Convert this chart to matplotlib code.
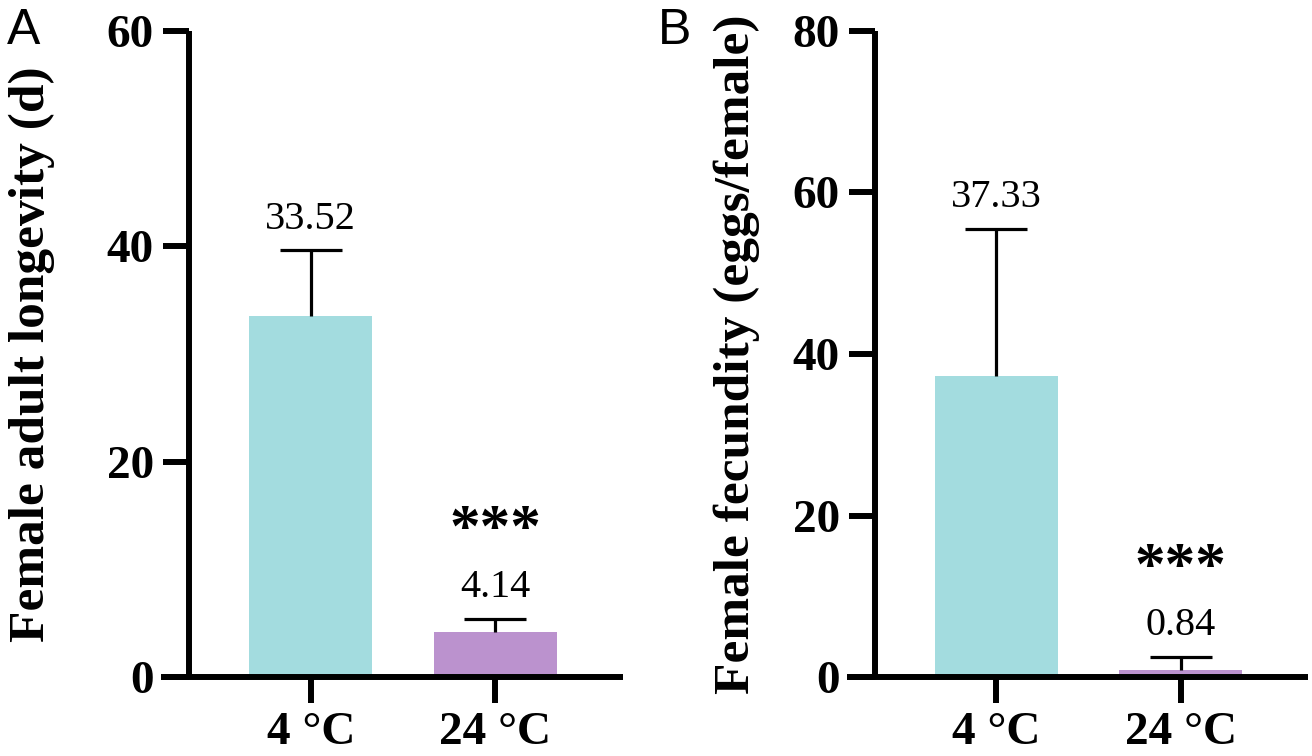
import matplotlib.pyplot as plt

# Datos
temperaturas = ['4 °C', '24 °C']
longevidad = [33.52, 4.14]
longevidad_err = [6.13, 1.25]
fecundidad = [37.33, 0.84]
fecundidad_err = [18.17, 1.64]
etiquetas_long = ['33.52', '4.14']
etiquetas_fec = ['37.33', '0.84']
significancia = ['', '***']

colores = ['#a3dcdf', '#bb92ce']
serif = 'Liberation Serif'
sans = 'Liberation Sans'

fig = plt.figure(figsize=(13.12, 7.56), dpi=100)


def panel(ax, valores, errores, etiquetas, ymax, titulo, letra):
    x = list(range(len(valores)))
    ax.bar(x, valores, width=0.665, color=colores, zorder=2)
    _, caps, _ = ax.errorbar(x, valores, yerr=[[0] * len(errores), errores], fmt='none',
                             ecolor='black', elinewidth=2.3, capsize=22, capthick=2.3,
                             zorder=3)
    caps[0].set_visible(False)  # solo la barra de error superior

    # Etiquetas de valor y asteriscos
    for xi, v, e, t, s in zip(x, valores, errores, etiquetas, significancia):
        ax.annotate(t, (xi, v + e), xytext=(0, 9), textcoords='offset points',
                    ha='center', va='bottom', fontsize=29, family=serif)
        if s:
            ax.annotate(s, (xi, v + e), xytext=(0, 43), textcoords='offset points',
                        ha='center', va='bottom', fontsize=44, family=serif,
                        fontweight='bold')

    ax.set_xlim(-0.81, 1.69)
    ax.set_ylim(0, ymax)
    ax.set_yticks(range(0, ymax + 1, 20))
    ax.set_xticks(x)
    ax.set_xticklabels(temperaturas)

    for lado in ['top', 'right']:
        ax.spines[lado].set_visible(False)
    ax.spines['left'].set_position(('data', -0.66))
    for lado in ['left', 'bottom']:
        ax.spines[lado].set_linewidth(4.3)
        ax.spines[lado].set_capstyle('butt')

    ax.tick_params(axis='both', width=4.3, length=19, direction='out')
    ax.tick_params(axis='y', pad=6)
    ax.tick_params(axis='x', pad=6)
    for lbl in ax.get_xticklabels() + ax.get_yticklabels():
        lbl.set_family(serif)
        lbl.set_fontweight('bold')
        lbl.set_fontsize(34)

    ax.set_ylabel(titulo, family=serif, fontweight='bold', fontsize=37)
    ax.text(letra[1], 1.0, letra[0], transform=ax.transAxes, family=sans,
            fontsize=36, ha='left', va='center')


ax1 = fig.add_axes([161 / 1312, 79 / 756, 462 / 1312, 646 / 756])
panel(ax1, longevidad, longevidad_err, etiquetas_long, 60,
      'Female adult longevity (d)', ('A', -0.333))
ax1.yaxis.set_label_coords(-0.229, 0.5)

ax2 = fig.add_axes([847 / 1312, 79 / 756, 461 / 1312, 646 / 756])
panel(ax2, fecundidad, fecundidad_err, etiquetas_fec, 80,
      'Female fecundity (eggs/female)', ('B', -0.41))
ax2.yaxis.set_label_coords(-0.189, 0.5)

plt.savefig('out.png', dpi=100)
